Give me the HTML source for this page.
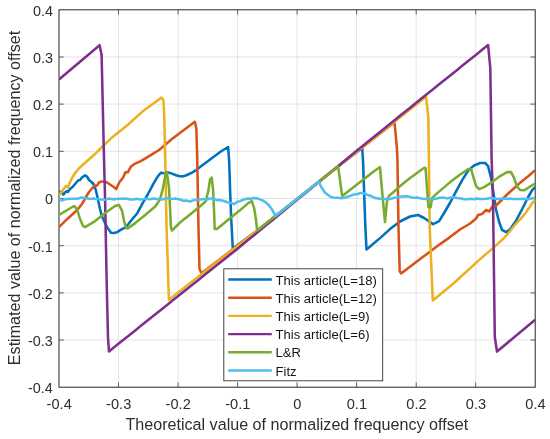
<!DOCTYPE html><html><head><meta charset="utf-8"><title>Frequency offset estimation</title>
<style>html,body{margin:0;padding:0;background:#fff}svg{display:block}text{font-family:"Liberation Sans",Arial,Helvetica,sans-serif;fill:#2e2e2e}.lg text{fill:#141414}</style></head><body>
<svg width="550" height="439" viewBox="0 0 550 439">
<rect width="550" height="439" fill="#fff"/>
<g stroke="#e4e4e4" stroke-width="1"><line x1="118.5" y1="9.8" x2="118.5" y2="387.2"/><line x1="59.0" y1="340.0" x2="535.2" y2="340.0"/><line x1="178.1" y1="9.8" x2="178.1" y2="387.2"/><line x1="59.0" y1="292.9" x2="535.2" y2="292.9"/><line x1="237.6" y1="9.8" x2="237.6" y2="387.2"/><line x1="59.0" y1="245.7" x2="535.2" y2="245.7"/><line x1="297.1" y1="9.8" x2="297.1" y2="387.2"/><line x1="59.0" y1="198.5" x2="535.2" y2="198.5"/><line x1="356.6" y1="9.8" x2="356.6" y2="387.2"/><line x1="59.0" y1="151.3" x2="535.2" y2="151.3"/><line x1="416.2" y1="9.8" x2="416.2" y2="387.2"/><line x1="59.0" y1="104.1" x2="535.2" y2="104.1"/><line x1="475.7" y1="9.8" x2="475.7" y2="387.2"/><line x1="59.0" y1="57.0" x2="535.2" y2="57.0"/></g>
<rect x="59.0" y="9.8" width="476.2" height="377.4" fill="none" stroke="#262626" stroke-width="1"/>
<g stroke="#3c3c3c" stroke-width="0.8"><line x1="118.5" y1="387.2" x2="118.5" y2="382.4"/><line x1="118.5" y1="9.8" x2="118.5" y2="14.6"/><line x1="59.0" y1="340.0" x2="63.8" y2="340.0"/><line x1="535.2" y1="340.0" x2="530.4" y2="340.0"/><line x1="178.1" y1="387.2" x2="178.1" y2="382.4"/><line x1="178.1" y1="9.8" x2="178.1" y2="14.6"/><line x1="59.0" y1="292.9" x2="63.8" y2="292.9"/><line x1="535.2" y1="292.9" x2="530.4" y2="292.9"/><line x1="237.6" y1="387.2" x2="237.6" y2="382.4"/><line x1="237.6" y1="9.8" x2="237.6" y2="14.6"/><line x1="59.0" y1="245.7" x2="63.8" y2="245.7"/><line x1="535.2" y1="245.7" x2="530.4" y2="245.7"/><line x1="297.1" y1="387.2" x2="297.1" y2="382.4"/><line x1="297.1" y1="9.8" x2="297.1" y2="14.6"/><line x1="59.0" y1="198.5" x2="63.8" y2="198.5"/><line x1="535.2" y1="198.5" x2="530.4" y2="198.5"/><line x1="356.6" y1="387.2" x2="356.6" y2="382.4"/><line x1="356.6" y1="9.8" x2="356.6" y2="14.6"/><line x1="59.0" y1="151.3" x2="63.8" y2="151.3"/><line x1="535.2" y1="151.3" x2="530.4" y2="151.3"/><line x1="416.2" y1="387.2" x2="416.2" y2="382.4"/><line x1="416.2" y1="9.8" x2="416.2" y2="14.6"/><line x1="59.0" y1="104.1" x2="63.8" y2="104.1"/><line x1="535.2" y1="104.1" x2="530.4" y2="104.1"/><line x1="475.7" y1="387.2" x2="475.7" y2="382.4"/><line x1="475.7" y1="9.8" x2="475.7" y2="14.6"/><line x1="59.0" y1="57.0" x2="63.8" y2="57.0"/><line x1="535.2" y1="57.0" x2="530.4" y2="57.0"/></g>
<clipPath id="c"><rect x="59.0" y="9.8" width="476.8" height="377.4"/></clipPath>
<g clip-path="url(#c)" fill="none" stroke-width="2.55" stroke-linejoin="round" stroke-linecap="butt">
<polyline stroke="#0072BD" points="59.0,192.6 61.0,191.6 63.5,194.6 65.0,192.6 67.0,191.1 68.0,191.9 70.0,189.0 73.0,186.5 75.5,183.5 78.0,180.5 80.0,180.0 82.0,177.5 85.0,175.2 87.0,176.5 89.0,180.0 91.5,182.0 93.5,184.0 95.5,189.0 97.0,195.0 98.5,202.0 100.0,209.0 101.5,215.0 103.1,219.0 107.1,227.1 111.0,232.8 114.0,233.0 117.0,232.3 119.5,230.6 121.5,229.4 123.0,228.6 125.6,227.3 128.0,224.5 133.0,218.3 137.3,213.2 143.1,202.3 147.5,195.0 153.2,184.1 157.2,177.3 160.0,173.8 161.5,172.6 164.5,173.6 168.0,172.4 172.0,173.6 176.0,175.2 179.0,176.0 182.0,176.4 185.0,175.8 188.0,174.5 192.0,172.6 196.1,170.1 204.1,164.0 212.1,158.0 220.1,152.0 228.1,147.0 229.1,160.0 230.1,190.1 231.1,216.2 232.8,248.5 256.0,231.5 340.0,165.0 362.2,147.9 363.0,160.0 365.4,228.0 366.5,249.5 380.0,238.1 390.0,229.1 400.0,221.5 410.1,216.5 418.1,215.0 424.1,218.0 430.1,222.1 433.1,224.1 439.1,221.1 444.1,213.0 450.2,202.5 456.2,191.1 462.2,180.1 468.2,170.5 474.1,165.5 480.1,163.0 485.1,163.0 488.1,166.1 491.1,178.1 494.1,197.0 496.1,210.0 499.1,222.0 502.1,230.0 506.1,232.1 510.1,229.2 516.2,220.4 522.2,209.0 528.2,197.0 532.2,190.1 535.2,187.1"/>
<polyline stroke="#D95319" points="59.0,227.2 67.0,219.2 75.0,212.0 78.0,209.0 82.0,204.0 86.0,197.0 89.0,192.0 92.0,188.5 94.5,186.0 97.0,185.5 99.0,182.5 101.5,181.5 104.0,181.5 107.0,182.5 110.0,184.5 113.1,186.5 116.1,189.1 119.5,182.0 123.0,177.8 125.4,172.2 127.8,172.3 130.7,166.8 133.7,164.4 140.8,161.2 150.3,155.3 159.1,150.0 165.0,145.0 171.6,139.3 186.2,128.3 194.9,121.8 196.4,129.1 197.2,158.0 198.5,228.0 199.5,269.0 201.5,273.3 256.0,231.5 340.0,165.0 394.5,122.3 396.8,146.6 397.4,158.0 398.5,228.0 399.7,271.0 401.1,273.4 420.1,259.1 440.1,244.1 450.0,237.1 460.0,229.5 470.1,223.5 476.1,218.5 478.1,215.0 482.1,214.0 486.1,210.0 489.1,211.5 492.1,207.0 496.1,205.5 500.1,201.5 508.7,193.0 514.6,187.7 520.5,182.4 528.2,176.2 535.2,170.1"/>
<polyline stroke="#EDB120" points="59.0,195.3 63.0,190.1 65.5,186.5 66.5,186.0 67.7,187.5 69.0,184.5 72.0,178.0 75.5,172.5 78.5,169.0 81.5,166.0 88.0,160.2 95.0,154.0 103.0,146.0 113.3,136.4 127.9,124.7 142.4,111.6 154.1,102.9 161.4,97.6 163.4,100.0 164.3,117.4 165.2,158.0 166.6,228.0 168.9,299.8 256.0,231.5 340.0,165.0 426.0,96.7 428.3,117.0 428.9,158.0 429.7,228.0 432.8,300.5 454.0,283.0 480.1,259.1 494.1,247.1 503.0,239.0 509.3,232.0 515.8,223.8 520.5,219.1 525.3,213.2 530.0,206.6 532.4,202.8 535.2,200.3"/>
<polyline stroke="#7E2F8E" points="59.0,79.5 99.6,45.2 101.6,54.8 104.0,158.0 105.1,200.0 106.7,283.0 108.0,338.0 109.0,351.4 115.3,346.3 121.6,341.3 128.0,336.2 134.3,331.2 140.6,326.1 146.9,321.1 153.2,316.0 159.5,310.9 165.9,305.9 172.2,300.8 178.5,295.8 184.8,290.7 191.1,285.7 197.5,280.7 203.8,275.6 210.1,270.6 216.4,265.6 222.7,260.5 229.0,255.5 235.4,250.4 241.7,245.3 248.0,240.1 254.3,234.9 260.6,229.7 267.0,224.5 273.3,219.4 279.6,214.2 285.9,209.0 292.2,203.8 298.6,198.6 304.9,193.4 311.2,188.2 317.5,183.0 323.8,177.8 330.1,172.6 336.5,167.4 342.8,162.2 349.1,157.0 355.4,151.8 361.7,146.7 368.1,141.6 374.4,136.5 380.7,131.4 387.0,126.3 393.3,121.2 399.6,116.1 406.0,111.0 412.3,105.9 418.6,100.8 424.9,95.7 431.2,90.7 437.6,85.6 443.9,80.5 450.2,75.4 456.5,70.4 462.8,65.3 469.1,60.2 475.5,55.2 481.8,50.1 488.1,45.0 490.3,68.0 491.6,158.0 493.0,200.0 494.8,337.0 497.0,351.6 535.2,319.7"/>
<polyline stroke="#77AC30" points="59.0,215.0 74.0,206.0 77.0,209.0 80.0,219.0 83.1,226.1 85.1,227.1 95.1,221.1 105.1,213.0 115.1,206.0 119.1,205.0 122.1,211.0 124.1,221.1 126.1,228.1 128.1,228.1 135.2,223.1 145.2,215.0 155.2,206.5 160.0,199.5 163.0,188.1 166.0,172.1 167.0,173.1 169.0,188.1 170.0,207.0 171.0,228.0 172.0,230.5 180.0,222.5 190.1,214.5 200.1,206.3 205.8,201.3 208.5,190.1 210.1,179.1 211.7,177.7 213.1,190.1 214.1,212.0 214.7,229.0 217.0,229.0 230.1,218.2 240.2,210.1 248.2,203.1 251.8,201.1 254.2,208.1 256.0,220.0 257.2,230.5 338.1,166.4 342.2,196.1 375.0,170.5 380.0,167.1 382.0,190.1 385.0,222.2 387.0,201.0 389.0,196.0 395.0,190.8 400.1,186.0 410.1,178.0 420.1,170.8 424.3,167.8 425.6,168.3 427.1,190.1 428.5,207.1 430.7,207.1 432.1,198.1 436.1,194.1 450.2,182.1 460.2,174.5 468.2,169.1 471.1,169.1 473.1,176.1 476.1,186.1 479.1,189.1 484.1,187.1 492.1,182.1 500.1,176.1 507.1,172.1 511.1,172.1 514.1,178.1 517.2,186.8 520.2,190.0 524.2,190.3 530.2,186.5 535.2,183.5"/>
<polyline stroke="#4DBEEE" points="59.0,198.2 61.5,200.5 64.0,199.6 67.0,199.1 72.0,198.7 77.0,198.7 82.0,197.5 84.0,198.2 87.0,198.3 90.0,199.0 93.5,198.5 97.0,199.1 102.0,199.6 105.3,199.7 108.7,198.6 112.0,199.1 115.3,199.1 118.7,198.7 122.0,198.8 126.0,198.4 130.0,199.4 133.3,199.4 136.7,198.8 140.0,199.5 143.3,199.3 146.7,198.7 150.0,199.2 153.3,198.5 156.7,199.0 160.0,199.0 163.0,199.4 166.0,198.3 169.0,198.3 172.0,198.9 175.0,198.6 180.0,199.5 183.0,200.7 186.0,200.5 190.0,201.5 194.0,200.1 197.0,199.9 200.0,199.5 203.3,199.0 206.7,199.5 210.0,198.5 213.3,198.4 216.7,200.1 220.0,200.1 224.0,201.0 228.0,202.5 231.0,202.8 234.0,204.1 237.0,202.0 240.0,201.1 244.0,199.5 248.0,198.5 251.0,198.8 254.0,198.1 258.0,198.6 262.0,200.1 266.0,202.5 269.0,205.5 272.0,209.5 274.0,213.0 275.2,216.3 278.1,213.9 281.0,211.6 283.9,209.3 286.9,207.0 289.8,204.7 292.7,202.4 295.6,200.1 298.5,197.8 301.4,195.5 304.3,193.2 307.2,190.9 310.2,188.5 313.1,186.2 316.0,183.9 318.9,181.6 321.1,186.7 325.1,192.7 328.1,195.0 331.1,197.1 334.5,197.7 337.8,197.7 341.2,198.3 345.2,197.4 349.2,196.3 353.2,194.6 357.2,194.3 360.2,193.0 363.2,193.1 367.2,194.7 371.1,196.0 375.0,198.1 380.0,198.7 383.3,199.1 386.7,198.9 390.0,199.1 393.3,198.0 396.7,197.6 400.0,196.7 403.0,196.4 406.0,196.3 408.8,196.4 411.6,197.5 414.4,197.8 417.2,197.5 420.0,198.3 423.3,198.7 426.7,198.9 430.0,199.1 433.3,199.2 436.7,198.5 440.0,197.7 443.3,197.4 446.7,198.4 450.0,197.7 453.3,197.3 456.7,198.0 460.0,198.3 464.0,199.2 468.0,199.3 471.0,198.7 474.0,199.2 477.0,198.5 480.0,199.1 483.3,199.0 486.7,198.7 490.0,197.9 493.3,198.3 496.7,199.1 500.0,198.8 503.3,198.5 506.7,199.0 510.0,198.6 513.3,198.9 516.7,199.0 520.0,199.0 523.0,198.8 526.1,199.1 529.1,199.1 532.2,198.2 535.2,198.1"/>
</g>
<g font-size="14.6" text-anchor="middle">
<text x="59.2" y="408.5">-0.4</text>
<text x="118.7" y="408.5">-0.3</text>
<text x="178.2" y="408.5">-0.2</text>
<text x="237.8" y="408.5">-0.1</text>
<text x="297.4" y="408.5">0</text>
<text x="356.9" y="408.5">0.1</text>
<text x="416.5" y="408.5">0.2</text>
<text x="476.0" y="408.5">0.3</text>
<text x="535.5" y="408.5">0.4</text>
</g><g font-size="14.4" text-anchor="end">
<text x="52.9" y="393.1">-0.4</text>
<text x="52.9" y="345.9">-0.3</text>
<text x="52.9" y="298.8">-0.2</text>
<text x="52.9" y="251.6">-0.1</text>
<text x="52.9" y="204.4">0</text>
<text x="52.9" y="157.2">0.1</text>
<text x="52.9" y="110.0">0.2</text>
<text x="52.9" y="62.9">0.3</text>
<text x="52.9" y="15.7">0.4</text>
</g>
<text x="296.8" y="429.6" font-size="16.12" text-anchor="middle">Theoretical value of normalized frequency offset</text>
<text transform="translate(19.6,198) rotate(-90)" font-size="16.1" text-anchor="middle">Estimated value of normalized frequency offset</text>
<rect x="223.8" y="268.8" width="158.9" height="112" fill="#fff" stroke="#333" stroke-width="0.9"/>
<g class="lg" font-size="13.05">
<line x1="228.2" y1="279.5" x2="271.8" y2="279.5" stroke="#0072BD" stroke-width="2.4"/>
<text x="275.6" y="284.5">This article(L=18)</text>
<line x1="228.2" y1="297.7" x2="271.8" y2="297.7" stroke="#D95319" stroke-width="2.4"/>
<text x="275.6" y="302.7">This article(L=12)</text>
<line x1="228.2" y1="315.9" x2="271.8" y2="315.9" stroke="#EDB120" stroke-width="2.4"/>
<text x="275.6" y="320.9">This article(L=9)</text>
<line x1="228.2" y1="334.1" x2="271.8" y2="334.1" stroke="#7E2F8E" stroke-width="2.4"/>
<text x="275.6" y="339.1">This article(L=6)</text>
<line x1="228.2" y1="352.3" x2="271.8" y2="352.3" stroke="#77AC30" stroke-width="2.4"/>
<text x="275.6" y="357.3">L&amp;R</text>
<line x1="228.2" y1="370.5" x2="271.8" y2="370.5" stroke="#4DBEEE" stroke-width="2.4"/>
<text x="275.6" y="375.5">Fitz</text>
</g>
</svg></body></html>
